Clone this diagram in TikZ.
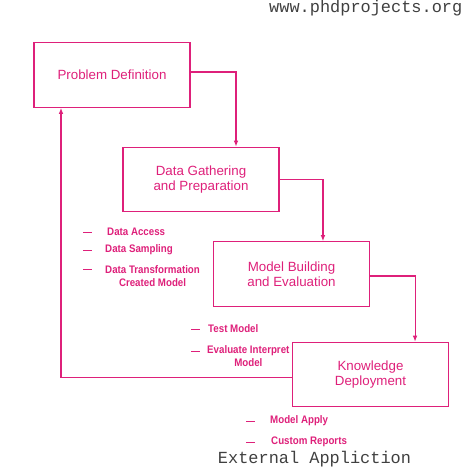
\documentclass[tikz,border=0pt]{standalone}
\usepackage{fontspec}
\setmainfont{Liberation Sans}
\setmonofont{Liberation Mono}
\usetikzlibrary{arrows.meta}
\definecolor{kdpink}{RGB}{222,32,122}
\tikzset{
  stage/.style={draw=kdpink, line width=0.8pt, text=kdpink, minimum width=117pt, minimum height=48.5pt, align=center, font=\fontsize{10}{11.3}\selectfont},
  flow/.style={draw=kdpink, line width=0.8pt, -{Latex[length=4.5pt,width=3.5pt]}},
  task/.style={text=kdpink, align=center, inner sep=0pt, xscale=0.89, font=\bfseries\fontsize{8.2}{9.7}\selectfont},
  web/.style={font=\ttfamily\fontsize{12.7}{14}\selectfont, text=black!75}
}
\begin{document}
\begin{tikzpicture}[x=0.75pt, y=-0.75pt]
\useasboundingbox (0,0) rectangle (474,474);

\node[web, anchor=east] (site) at (467,8) {www.phdprojects.org};

\node[stage] (pd) at (112,75) {Problem Definition};
\node[stage] (dg) at (201,179.5) {Data Gathering\\and Preparation};
\node[stage] (mb) at (291.5,274) {Model Building\\and Evaluation};
\node[stage] (kd) at (370.5,374.5) {Knowledge\\Deployment};

\draw[flow] ([yshift=2.25pt]pd.east) -| ([xshift=26.25pt]dg.north);
\draw[flow] (dg.east) -| ([xshift=23.6pt]mb.north);
\draw[flow] ([yshift=-1.5pt]mb.east) -| ([xshift=33.4pt]kd.north);
\draw[flow] ([yshift=-1.9pt]kd.west) -| ([xshift=-38.25pt]pd.south);

% tasks of each stage
\node[task, anchor=west] (t1) at (107,232) {Data Access};
\node[task, anchor=west] (t2) at (105,250) {Data Sampling};
\node[task, anchor=north west] (t3) at (105,265) {Data Transformation\\Created Model};
\node[task, anchor=west] (t4) at (208,329) {Test Model};
\node[task, anchor=north west] (t5) at (207,345) {Evaluate Interpret\\Model};
\node[task, anchor=west] (t6) at (270,421) {Model Apply};
\node[task, anchor=west] (t7) at (271,442) {Custom Reports};

\foreach \x/\y in {83/232, 83/250, 83/269, 191/329, 191/351, 246/421, 246/442}
  \draw[kdpink, line width=0.7pt] (\x,\y) -- +(9,0);

\node[web] (ext) at (314.5,459) {External Appliction};
\end{tikzpicture}
\end{document}
